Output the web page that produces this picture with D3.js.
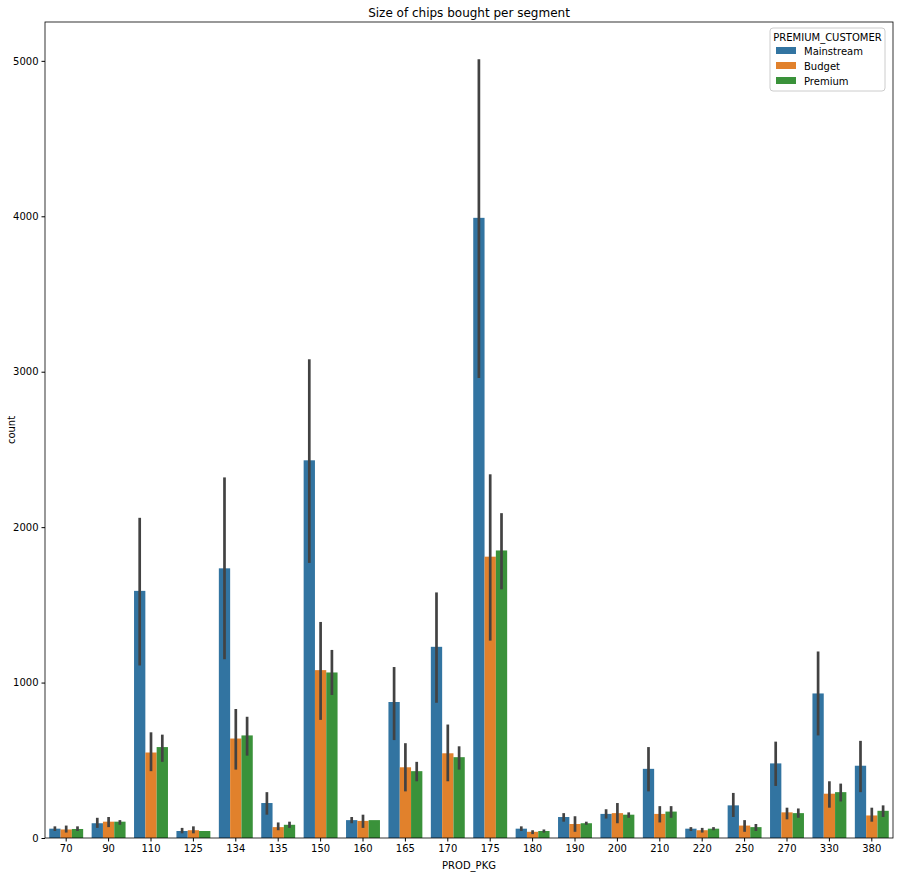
<!DOCTYPE html>
<html><head><meta charset="utf-8">
<script src="https://cdn.jsdelivr.net/npm/d3@7"></script>
<style>body{margin:0;background:#fff;font-family:"DejaVu Sans",sans-serif;}</style>
</head><body>
<script>
var pkgs = ["70","90","110","125","134","135","150","160","165","170","175","180","190","200","210","220","250","270","330","380"];
var segments = ["Mainstream","Budget","Premium"];
var colors = ["#3274a1","#e1812c","#3a923a"];
var mainstream = [60,95,1590,45,1735,225,2430,115,875,1230,3990,60,135,155,445,60,210,480,930,465];
var mainLo = [45,65,1110,30,1150,150,1770,95,630,870,2960,45,105,125,300,45,135,335,660,295];
var mainHi = [75,130,2060,65,2320,295,3080,135,1100,1580,5010,75,160,185,585,70,290,620,1200,625];
var budget = [55,105,550,50,640,70,1080,110,455,545,1810,40,90,160,155,50,80,165,285,145];
var budgetLo = [35,70,430,30,440,50,760,65,300,365,1270,25,40,95,100,35,40,120,195,105];
var budgetHi = [80,135,680,75,830,100,1390,150,610,730,2340,50,140,225,205,65,115,195,365,195];
var premium = [58,105,585,45,660,85,1065,115,430,520,1850,45,95,150,170,60,70,160,295,175];
var premLo = [45,85,490,45,530,65,920,115,365,440,1600,35,85,130,130,50,45,130,235,135];
var premHi = [75,115,665,45,780,105,1210,115,490,590,2090,55,105,165,205,70,90,190,350,210];
var yTicks = [0,1000,2000,3000,4000,5000];

var series = [[mainstream,mainLo,mainHi],[budget,budgetLo,budgetHi],[premium,premLo,premHi]];
var W=897,H=877,L=45,R=893,T=22,B=838;
var svg=d3.select("body").append("svg").attr("width",W).attr("height",H);
var x=d3.scaleBand().domain(pkgs).range([L,R]).paddingInner(0.2).paddingOuter(0.1);
var xs=d3.scaleBand().domain(segments).range([0,x.bandwidth()]);
var y=d3.scaleLinear().domain([0,5250]).range([B,T]);

segments.forEach(function(s,si){
  var g=svg.append("g");
  var d=series[si];
  g.selectAll("rect").data(pkgs).enter().append("rect")
    .attr("x",function(p){return x(p)+xs(s);}).attr("width",xs.bandwidth())
    .attr("y",function(p,i){return y(d[0][i]);})
    .attr("height",function(p,i){return B-y(d[0][i]);})
    .attr("fill",colors[si]);
  g.selectAll("line").data(pkgs).enter().append("line")
    .attr("x1",function(p){return x(p)+xs(s)+xs.bandwidth()/2;})
    .attr("x2",function(p){return x(p)+xs(s)+xs.bandwidth()/2;})
    .attr("y1",function(p,i){return y(d[1][i]);})
    .attr("y2",function(p,i){return y(d[2][i]);})
    .attr("stroke","#424242").attr("stroke-width",2.7);
});

svg.append("rect").attr("x",L).attr("y",T).attr("width",R-L).attr("height",B-T)
  .attr("fill","none").attr("stroke","#000").attr("stroke-width",0.8);
svg.append("g").attr("transform","translate(0,"+B+")")
  .call(d3.axisBottom(x).tickSizeOuter(0).tickSize(3.5))
  .call(function(g){g.select(".domain").remove();g.selectAll("text").attr("font-size",10).attr("font-family","DejaVu Sans").attr("fill","#000");});
svg.append("g").attr("transform","translate("+L+",0)")
  .call(d3.axisLeft(y).tickValues(yTicks).tickSize(3.5).tickFormat(d3.format("d")))
  .call(function(g){g.select(".domain").remove();g.selectAll("text").attr("font-size",10).attr("font-family","DejaVu Sans").attr("fill","#000");});

svg.append("text").attr("x",(L+R)/2).attr("y",17).attr("text-anchor","middle").attr("font-size",12).text("Size of chips bought per segment");
svg.append("text").attr("x",(L+R)/2).attr("y",869).attr("text-anchor","middle").attr("font-size",10).text("PROD_PKG");
svg.append("text").attr("transform","translate(15,"+((T+B)/2)+") rotate(-90)").attr("text-anchor","middle").attr("font-size",10).text("count");

var lg=svg.append("g").attr("transform","translate(770,28)");
lg.append("rect").attr("width",115).attr("height",63).attr("rx",3).attr("fill","#fff").attr("stroke","#ccc");
lg.append("text").attr("x",57.5).attr("y",13).attr("text-anchor","middle").attr("font-size",10).text("PREMIUM_CUSTOMER");
segments.forEach(function(s,i){
  lg.append("rect").attr("x",6).attr("y",19+i*15).attr("width",20).attr("height",7).attr("fill",colors[i]);
  lg.append("text").attr("x",34).attr("y",27+i*15).attr("font-size",10).text(s);
});
</script>
</body></html>
